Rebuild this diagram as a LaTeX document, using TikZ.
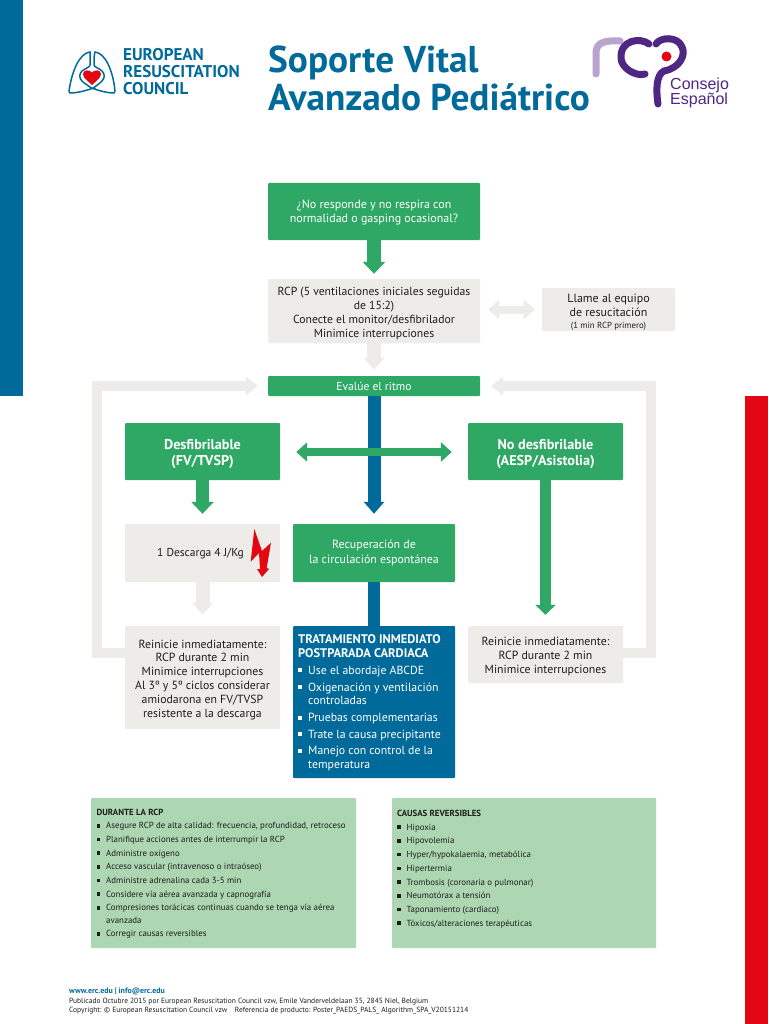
\documentclass[tikz,border=0pt]{standalone}
\usepackage{fontspec}
\setmainfont{PT Sans}
\newfontfamily\arialf{Liberation Sans}
\usetikzlibrary{arrows.meta,calc}
\definecolor{ercblue}{HTML}{006A9B}
\definecolor{ercgreen}{HTML}{2FA866}
\definecolor{ercgray}{HTML}{EDECE8}
\definecolor{ercpale}{HTML}{ADD6B2}
\definecolor{ercred}{HTML}{E30613}
\definecolor{rcppurple}{HTML}{4F2683}
\definecolor{rcplilac}{HTML}{B9A3CF}
\definecolor{ink}{HTML}{1D1D1B}
\newcommand{\fs}[2]{\fontsize{#1}{#2}\selectfont}
\newcommand{\bulk}{\makebox[9.5pt][l]{\raisebox{1.2pt}{\rule{3.6pt}{3.6pt}}}}
\newcommand{\bulb}{\makebox[10pt][l]{\raisebox{2pt}{\rule{4pt}{4pt}}}}
\newcommand{\lowr}[1]{\rule{0pt}{#1}}
\tikzset{
 x=1pt,y=-1pt,
 boxbase/.style={anchor=center,align=center,inner sep=0pt,rounded corners=1pt},
 greenbox/.style={boxbase,fill=ercgreen,text=white},
 graybox/.style={boxbase,fill=ercgray,text=ink},
 bluebox/.style={boxbase,fill=ercblue,text=white},
 palebox/.style={boxbase,fill=ercpale,text=ink},
 greenarr/.style={draw=ercgreen,line width=14pt,-{Triangle[width=22pt,length=12pt]}},
 grayarr/.style={draw=ercgray,line width=14pt,-{Triangle[width=20pt,length=12pt]}},
 bluearr/.style={draw=ercblue,line width=13pt,-{Triangle[width=20pt,length=12pt]}},
 loopline/.style={draw=ercgray,line width=10pt,line join=miter,-{Triangle[width=18pt,length=12pt]}},
 logoline/.style={draw=ercblue,line width=1.5pt,line join=round,line cap=round},
}
\newcommand{\bx}[6]{\node[#1,minimum width=#4-#3,minimum height=#6-#5] (#2) at ({(#3+#4)/2},{(#5+#6)/2})}
\begin{document}
\begin{tikzpicture}
\useasboundingbox (0,0) rectangle (768,1024);
\fill[white] (0,0) rectangle (768,1024);
\fill[ercblue] (0,0) rectangle (23,396);
\fill[ercred] (745,396) rectangle (768,1024);

% ERC logo
\draw[logoline] (90,52) .. controls (80,53) and (72,70) .. (69,91) .. controls (69,93) and (70,93.5) .. (72,93) .. controls (78,92.5) and (85,91) .. (92,88.5);
\draw[logoline] (90,52) .. controls (90,52) and (90,60) .. (90,65) .. controls (90,67) and (86,68) .. (82,71) .. controls (79,74) and (79,78) .. (82,81) .. controls (85,84) and (89,86) .. (92,88.5) .. controls (93,88.5) and (94,88.5) .. (95,88.5);
\draw[logoline] (95,52) .. controls (105,53) and (113,70) .. (115,91) .. controls (115,93) and (114,93.5) .. (112,93) .. controls (106,92.5) and (100,91) .. (93,88.5);
\draw[logoline] (95,52) .. controls (94,55) and (94,60) .. (94,65) .. controls (94,67) and (99,68) .. (102,71) .. controls (105,74) and (105,78) .. (102,81) .. controls (99,84) and (96,86) .. (92.5,88.5);
\fill[ercred] (92,85) .. controls (88,81) and (83,78) .. (83,74) .. controls (83,70) and (89,69) .. (92,72.5) .. controls (95,69) and (101,70) .. (101,74) .. controls (101,78) and (96,81) .. (92,85) -- cycle;
\node[anchor=west,inner sep=0pt,align=left,text=ercblue,font=\bfseries\fs{17}{16.8}] (erc) at (123,71.5) {EUROPEAN\\RESUSCITATION\\COUNCIL};

% Title
\node[anchor=north west,inner sep=0pt,align=left,text=ercblue,font=\bfseries\fs{37.3}{38}] (title) at (268,46) {Soporte Vital\\Avanzado Pediátrico};

% RCP logo
\draw[rcplilac,line width=7pt,line cap=round] (596,74) -- (596,53) .. controls (596,43) and (604,40) .. (620,41);
\draw[rcppurple,line width=7pt,line cap=round] (649,44) .. controls (640,37) and (620,40) .. (621,58) .. controls (621,68) and (636,77) .. (645,74);
\draw[rcppurple,line width=7pt,line cap=round] (658,104) .. controls (656,90) and (656,75) .. (664,71) .. controls (680,68) and (686,55) .. (682,47) .. controls (678,36) and (660,37) .. (656,44);
\fill[ercred] (666.5,56.5) circle (5);
\node[anchor=west,inner sep=0pt,align=left,text=rcppurple,font=\arialf\fs{16}{15}] (rcptxt) at (670,92.5) {Consejo\\Español};

% Boxes
\bx{greenbox,font=\fs{12}{14.5}}{q}{268}{480}{183}{240} {\lowr{11pt}¿No responde y no respira con\\normalidad o gasping ocasional?};
\bx{graybox,font=\fs{11.7}{13.9}}{rcp}{268}{480}{279}{343} {\lowr{13pt}RCP (5 ventilaciones iniciales seguidas\\de 15:2)\\Conecte el monitor/desfibrilador\\Minimice interrupciones};
\bx{graybox,font=\fs{12}{14}}{call}{542}{675}{288}{331} {\lowr{14pt}Llame al equipo\\de resucitación\\[-2pt]\fs{8.8}{9}(1 min RCP primero)};
\bx{greenbox,font=\fs{11.6}{12}}{eval}{268}{480}{376}{396} {Evalúe el ritmo};
\bx{greenbox,font=\bfseries\fs{14.2}{16}}{desf}{125}{280}{423}{480} {\lowr{15pt}Desfibrilable\\(FV/TVSP)};
\bx{greenbox,font=\bfseries\fs{14.2}{16}}{nodesf}{468}{623}{423}{480} {\lowr{15pt}No desfibrilable\\(AESP/Asistolia)};
\bx{graybox}{shock}{125}{280}{524}{582} {};
\node[anchor=west,inner sep=0pt,text=ink,font=\fs{11.5}{13}] (shocktxt) at (157,553.5) {1 Descarga 4 J/Kg};
\bx{greenbox,font=\fs{11.9}{15}}{rosc}{293}{455}{524}{582} {Recuperación de\\la circulación espontánea};
\bx{graybox,font=\fs{11.8}{13.9}}{resL}{125}{280}{626}{729} {\lowr{13pt}Reinicie inmediatamente:\\RCP durante 2 min\\Minimice interrupciones\\Al 3º y 5º ciclos considerar\\amiodarona en FV/TVSP\\resistente a la descarga};
\bx{graybox,font=\fs{11.8}{13.9}}{resR}{468}{623}{626}{683} {\lowr{13pt}Reinicie inmediatamente:\\RCP durante 2 min\\Minimice interrupciones};
\bx{bluebox}{post}{293}{455}{626}{778} {};
\node[anchor=north west,inner sep=0pt,align=left,text=white,font=\fs{11.8}{13.5}] (posttxt) at (298,634.5) {\bfseries\fs{12.5}{14}TRATAMIENTO INMEDIATO\\\bfseries\fs{12.5}{14}POSTPARADA CARDIACA\\[3.5pt]
\bulb Use el abordaje ABCDE\\[3.5pt]
\bulb Oxigenación y ventilación\\\hspace*{10pt}controladas\\[3.5pt]
\bulb Pruebas complementarias\\[3pt]
\bulb Trate la causa precipitante\\[3pt]
\bulb Manejo con control de la\\\hspace*{10pt}temperatura};
\bx{palebox}{during}{91}{356}{798}{948} {};
\node[anchor=north west,inner sep=0pt,align=left,text=ink,font=\fs{8.85}{13.7}] (duringtxt) at (96.5,808.5) {\bfseries DURANTE LA RCP\\
\bulk Asegure RCP de alta calidad: frecuencia, profundidad, retroceso\\
\bulk Planifique acciones antes de interrumpir la RCP\\
\bulk Administre oxígeno\\
\bulk Acceso vascular (intravenoso o intraóseo)\\
\bulk Administre adrenalina cada 3-5 min\\
\bulk Considere vía aérea avanzada y capnografía\\
\bulk Compresiones torácicas continuas cuando se tenga vía aérea\\[-1.5pt]
\hspace*{9.5pt}avanzada\\
\bulk Corregir causas reversibles};
\bx{palebox}{causes}{392}{656}{798}{948} {};
\node[anchor=north west,inner sep=0pt,align=left,text=ink,font=\fs{8.85}{13.7}] (causestxt) at (397,810) {\bfseries CAUSAS REVERSIBLES\\
\bulk Hipoxia\\
\bulk Hipovolemia\\
\bulk Hyper/hypokalaemia, metabólica\\
\bulk Hipertermia\\
\bulk Trombosis (coronaria o pulmonar)\\
\bulk Neumotórax a tensión\\
\bulk Taponamiento (cardiaco)\\
\bulk Tóxicos/alteraciones terapéuticas};

% Lightning
\fill[ercred] (254.3,529) -- (262,551) -- (271,542.7) -- (266.7,568) -- (269,569) -- (262,577) -- (257,569) -- (260,569) -- (259,553) -- (250.7,561.7) -- cycle;

% Connectors
\draw[greenarr,shorten >=5pt] (q.south) -- (rcp.north);
\draw[grayarr,shorten >=6pt] (rcp.south) -- (eval.north);
\draw[draw=ercgray,line width=8pt,{Triangle[width=19pt,length=11pt]}-{Triangle[width=19pt,length=11pt]},shorten <=8pt,shorten >=7pt] (rcp.east |- call.west) -- (call.west);
\draw[bluearr,shorten >=10pt] (eval.south) -- (rosc.north);
\draw[draw=ercgreen,line width=8pt,{Triangle[width=19pt,length=11pt]}-{Triangle[width=19pt,length=11pt]},shorten <=16pt,shorten >=16pt] (desf.east |- 0,452) -- (nodesf.west |- 0,452);
\draw[greenarr,shorten >=10pt,line width=13pt] (desf.south) -- (shock.north);
\draw[grayarr,shorten >=11pt] (shock.south) -- (resL.north);
\draw[draw=ercblue,line width=12pt] (rosc.south) -- (post.north);
\draw[greenarr,line width=11pt,-{Triangle[width=20pt,length=10pt]},shorten >=11pt] (nodesf.south -| 545.5,0) -- (resR.north -| 545.5,0);
\coordinate (lturn) at (97,386);
\coordinate (rturn) at (651,386);
\draw[loopline,shorten >=10pt] (resL.west |- 0,653) -- (lturn |- 0,653) -- (lturn) -- (eval.west);
\draw[loopline,shorten >=11pt] (resR.east |- 0,653) -- (rturn |- 0,653) -- (rturn) -- (eval.east);

% Footer
\node[anchor=west,inner sep=0pt,text=ercblue,font=\bfseries\fs{7.9}{8}] (web) at (69,991) {www.erc.edu | info@erc.edu};
\node[anchor=west,inner sep=0pt,text=ink,font=\fs{7.5}{8}] (pub) at (69,1002) {Publicado Octubre 2015 por European Resuscitation Council vzw, Emile Vanderveldelaan 35, 2845 Niel, Belgium};
\node[anchor=west,inner sep=0pt,text=ink,font=\fs{7.5}{8}] (copy) at (69,1011) {Copyright: © European Resuscitation Council vzw\quad Referencia de producto: Poster\_PAEDS\_PALS\_ Algorithm\_SPA\_V20151214};
\end{tikzpicture}
\end{document}
